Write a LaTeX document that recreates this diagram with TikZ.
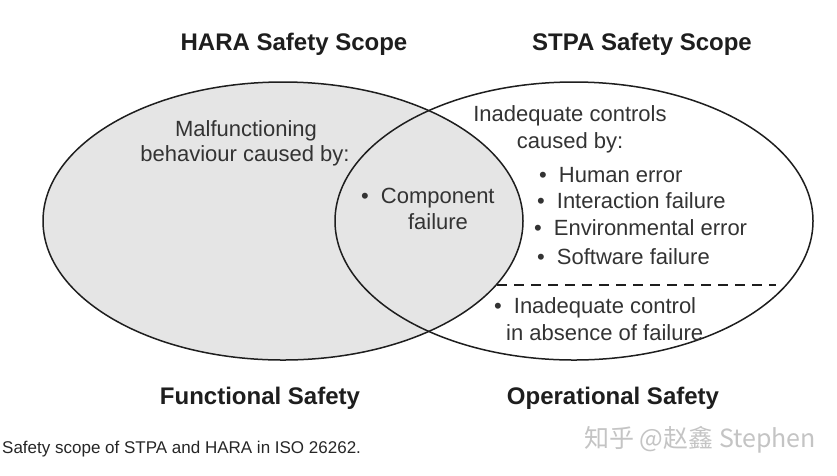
\documentclass[tikz,border=0pt]{standalone}
\usepackage{fontspec}
\setmainfont{Liberation Sans}
\newfontfamily\cjk{Noto Sans CJK SC}
\usetikzlibrary{shapes.geometric}
\definecolor{hgray}{HTML}{E5E5E5}
\definecolor{ink}{HTML}{1E1E1E}
\definecolor{txt}{HTML}{333333}
\definecolor{wm}{HTML}{C4C4C4}
\newcommand\itembul{\textbullet\hspace{12pt}}
\begin{document}
\begin{tikzpicture}[x=1pt,y=-1pt,
  venn/.style={ellipse, draw=ink, line width=1.5pt, minimum height=278pt, inner sep=0pt},
  title/.style={font=\fontsize{24}{28}\selectfont\bfseries, text=ink, anchor=base, inner sep=0pt},
  body/.style={font=\fontsize{22}{25}\selectfont, text=txt, anchor=base, inner sep=0pt},
  item/.style={body, anchor=base west},
  divider/.style={draw=ink, line width=1.3pt, dash pattern=on 10pt off 7pt},
]
\useasboundingbox (0,0) rectangle (837,475);
\fill[white] (0,0) rectangle (837,475);
% ellipses
\node[venn, fill=hgray, minimum width=480pt] (hara) at (283,221) {};
\node[venn, minimum width=478pt] (stpa) at (574,221) {};
% titles
\node[title] (t1) at (294,50) {HARA Safety Scope};
\node[title] (t2) at (642,50) {STPA Safety Scope};
\node[title] (t3) at (260,404) {Functional Safety};
\node[title] (t4) at (613,404) {Operational Safety};
% left text
\node[body] (m1) at (246,136) {Malfunctioning};
\node[body] (m2) at (245,161) {behaviour caused by:};
% intersection
\node[item] (c1) at (361,203) {\itembul Component};
\node[body] (c2) at (438,229) {failure};
% right text
\node[body] (r1) at (570,121) {Inadequate controls};
\node[body] (r2) at (570,148) {caused by:};
\node[item] (b1) at (539,182) {\itembul Human error};
\node[item] (b2) at (537,208) {\itembul Interaction failure};
\node[item] (b3) at (534,235) {\itembul Environmental error};
\node[item] (b4) at (537,264) {\itembul Software failure};
\coordinate (d1) at (497,285);
\coordinate (d2) at (776,285);
\draw[divider] (d1) -- (d2);
\node[item] (b5) at (494,313) {\itembul Inadequate control};
\node[item] (b6) at (506,340) {in absence of failure};
% caption and watermark
\node[font=\fontsize{17}{20}\selectfont, text=black!85, anchor=base west, inner sep=0pt] (cap) at (2,453) {Safety scope of STPA and HARA in ISO 26262.};
\node[font=\cjk\fontsize{25}{28}\selectfont, text=wm, anchor=base west, inner sep=0pt] (wmk) at (584,447) {知乎 @赵鑫 Stephen};
\end{tikzpicture}
\end{document}
